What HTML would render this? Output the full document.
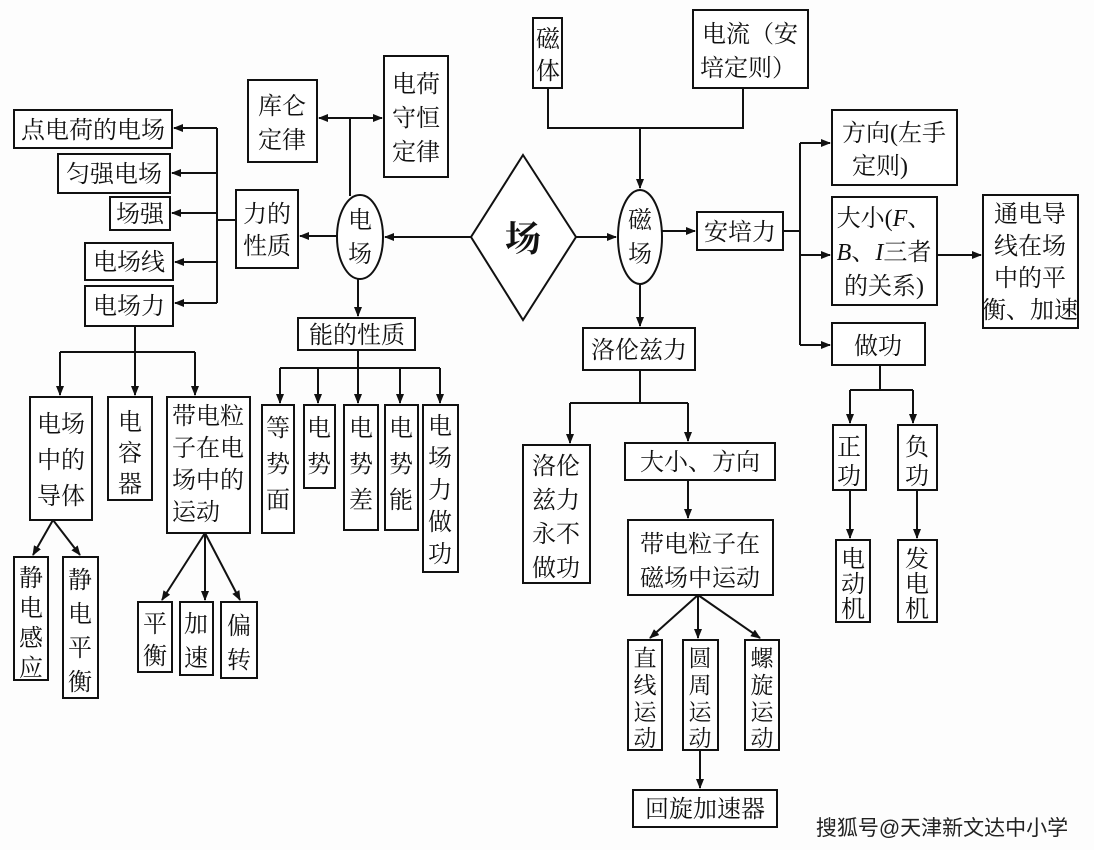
<!DOCTYPE html>
<html><head><meta charset="utf-8"><style>
html,body{margin:0;padding:0;background:#fdfdfd;}
svg{display:block}
text{font-family:"Liberation Serif","Noto Serif CJK SC",serif;font-size:24px;fill:#111;text-anchor:middle;}
.s{font-size:23px}
</style></head><body>
<svg width="1094" height="850" viewBox="0 0 1094 850" xmlns="http://www.w3.org/2000/svg">
<defs><marker id="a" markerWidth="10" markerHeight="8" refX="9" refY="4" orient="auto" markerUnits="userSpaceOnUse"><path d="M0,0 L10,4 L0,8 Z" fill="#111"/></marker></defs>
<rect width="1094" height="850" fill="#fdfdfd"/>
<g fill="#fff" stroke="#111" stroke-width="2">
<rect x="14" y="110" width="158" height="38"/>
<rect x="58" y="154" width="112" height="39"/>
<rect x="110" y="197" width="60" height="33"/>
<rect x="85" y="243" width="88" height="37"/>
<rect x="85" y="286" width="88" height="40"/>
<rect x="236" y="190" width="62" height="78"/>
<rect x="248" y="80" width="69" height="82"/>
<rect x="384" y="56" width="64" height="121"/>
<ellipse cx="360" cy="237" rx="23" ry="42"/>
<polygon points="523,155 576,237 523,320 471,237"/>
<rect x="298" y="318" width="117" height="32"/>
<rect x="262" y="405" width="32" height="128"/>
<rect x="304" y="405" width="31" height="83"/>
<rect x="344" y="405" width="34" height="125"/>
<rect x="385" y="405" width="33" height="125"/>
<rect x="423" y="405" width="35" height="167"/>
<rect x="30" y="397" width="62" height="123"/>
<rect x="108" y="397" width="44" height="103"/>
<rect x="167" y="397" width="83" height="136"/>
<rect x="14" y="557" width="34" height="123"/>
<rect x="63" y="557" width="35" height="141"/>
<rect x="138" y="602" width="34" height="70"/>
<rect x="180" y="602" width="33" height="73"/>
<rect x="221" y="602" width="36" height="76"/>
<rect x="533" y="18" width="29" height="70"/>
<rect x="693" y="10" width="115" height="78"/>
<ellipse cx="640" cy="237" rx="22" ry="47"/>
<rect x="697" y="212" width="86" height="38"/>
<rect x="832" y="110" width="125" height="75"/>
<rect x="832" y="197" width="105" height="108"/>
<rect x="832" y="323" width="93" height="42"/>
<rect x="983" y="195" width="95" height="133"/>
<rect x="583" y="328" width="112" height="42"/>
<rect x="523" y="445" width="67" height="138"/>
<rect x="625" y="443" width="150" height="37"/>
<rect x="628" y="520" width="145" height="75"/>
<rect x="628" y="640" width="34" height="110"/>
<rect x="683" y="640" width="35" height="110"/>
<rect x="745" y="640" width="34" height="110"/>
<rect x="633" y="790" width="144" height="37"/>
<rect x="833" y="425" width="33" height="65"/>
<rect x="898" y="425" width="39" height="65"/>
<rect x="836" y="540" width="34" height="82"/>
<rect x="898" y="540" width="39" height="82"/>
</g>
<g stroke="#111" stroke-width="2" fill="none">
<path d="M217,128 V303"/>
<path d="M217,128 H174" marker-end="url(#a)"/>
<path d="M217,173 H172" marker-end="url(#a)"/>
<path d="M217,213 H172" marker-end="url(#a)"/>
<path d="M217,262 H175" marker-end="url(#a)"/>
<path d="M217,303 H175" marker-end="url(#a)"/>
<path d="M236,220 H217"/>
<path d="M337,236 H300" marker-end="url(#a)"/>
<path d="M471,237 H385" marker-end="url(#a)"/>
<path d="M350,196 V118"/>
<path d="M350,118 H319" marker-end="url(#a)"/>
<path d="M350,118 H382" marker-end="url(#a)"/>
<path d="M358,279 V316" marker-end="url(#a)"/>
<path d="M358,350 V368 M280,368 H440"/>
<path d="M280,368 V403" marker-end="url(#a)"/>
<path d="M318,368 V403" marker-end="url(#a)"/>
<path d="M358,368 V403" marker-end="url(#a)"/>
<path d="M400,368 V403" marker-end="url(#a)"/>
<path d="M440,368 V403" marker-end="url(#a)"/>
<path d="M135,326 V352 M60,352 H195"/>
<path d="M60,352 V395" marker-end="url(#a)"/>
<path d="M135,352 V395" marker-end="url(#a)"/>
<path d="M195,352 V395" marker-end="url(#a)"/>
<path d="M53,520 L33,555" marker-end="url(#a)"/>
<path d="M53,520 L80,555" marker-end="url(#a)"/>
<path d="M205,533 L162,600" marker-end="url(#a)"/>
<path d="M205,533 V600" marker-end="url(#a)"/>
<path d="M205,533 L240,600" marker-end="url(#a)"/>
<path d="M548,88 V128 H743 V88 M640,128 V150"/>
<path d="M640,150 V188" marker-end="url(#a)"/>
<path d="M576,237 H616" marker-end="url(#a)"/>
<path d="M662,231 H695" marker-end="url(#a)"/>
<path d="M783,231 H800 M800,143 V345"/>
<path d="M800,143 H830" marker-end="url(#a)"/>
<path d="M800,255 H830" marker-end="url(#a)"/>
<path d="M800,345 H830" marker-end="url(#a)"/>
<path d="M937,255 H981" marker-end="url(#a)"/>
<path d="M640,284 V326" marker-end="url(#a)"/>
<path d="M640,370 V403 M570,403 H688"/>
<path d="M570,403 V443" marker-end="url(#a)"/>
<path d="M688,403 V441" marker-end="url(#a)"/>
<path d="M688,480 V518" marker-end="url(#a)"/>
<path d="M698,595 L650,638" marker-end="url(#a)"/>
<path d="M698,595 V638" marker-end="url(#a)"/>
<path d="M698,595 L760,638" marker-end="url(#a)"/>
<path d="M700,750 V788" marker-end="url(#a)"/>
<path d="M880,365 V390 M850,390 H913"/>
<path d="M850,390 V423" marker-end="url(#a)"/>
<path d="M913,390 V423" marker-end="url(#a)"/>
<path d="M850,490 V538" marker-end="url(#a)"/>
<path d="M917,490 V538" marker-end="url(#a)"/>
</g>
<g>
<text x="93" y="138">点电荷的电场</text>
<text x="114" y="182">匀强电场</text>
<text x="140" y="222">场强</text>
<text x="129" y="270">电场线</text>
<text x="129" y="314">电场力</text>
<text x="267" y="222">力的</text><text x="267" y="254">性质</text>
<text x="282" y="114">库仑</text><text x="282" y="148">定律</text>
<text x="416" y="92">电荷</text><text x="416" y="126">守恒</text><text x="416" y="160">定律</text>
<text x="360" y="228">电</text><text x="360" y="262">场</text>
<text x="523" y="251" style="font-size:36px;font-weight:bold">场</text>
<text x="357" y="343">能的性质</text>
<text x="278" y="436">等</text><text x="278" y="472">势</text><text x="278" y="508">面</text>
<text x="319" y="436">电</text><text x="319" y="472">势</text>
<text x="361" y="436">电</text><text x="361" y="472">势</text><text x="361" y="508">差</text>
<text x="401" y="436">电</text><text x="401" y="472">势</text><text x="401" y="508">能</text>
<text x="440" y="434">电</text><text x="440" y="466">场</text><text x="440" y="498">力</text><text x="440" y="530">做</text><text x="440" y="562">功</text>
<text x="61" y="432">电场</text><text x="61" y="468">中的</text><text x="61" y="504">导体</text>
<text x="130" y="430">电</text><text x="130" y="461">容</text><text x="130" y="492">器</text>
<text x="208" y="424">带电粒</text><text x="208" y="456">子在电</text><text x="208" y="488">场中的</text><text x="196" y="520">运动</text>
<text x="31" y="586">静</text><text x="31" y="616">电</text><text x="31" y="646">感</text><text x="31" y="676">应</text>
<text x="80" y="588">静</text><text x="80" y="622">电</text><text x="80" y="656">平</text><text x="80" y="690">衡</text>
<text x="155" y="632">平</text><text x="155" y="664">衡</text>
<text x="196" y="632">加</text><text x="196" y="666">速</text>
<text x="239" y="634">偏</text><text x="239" y="668">转</text>
<text x="548" y="47">磁</text><text x="548" y="79">体</text>
<text x="750" y="42">电流（安</text><text x="748" y="76">培定则）</text>
<text x="640" y="228">磁</text><text x="640" y="262">场</text>
<text x="740" y="240">安培力</text>
<text x="894" y="141">方向(左手</text><text x="880" y="174">定则)</text>
<text x="884" y="226">大小(<tspan font-style="italic">F</tspan>、</text>
<text x="884" y="260"><tspan font-style="italic">B</tspan>、<tspan font-style="italic">I</tspan>三者</text>
<text x="884" y="294">的关系)</text>
<text x="878" y="354">做功</text>
<text x="1030" y="222">通电导</text><text x="1030" y="254">线在场</text><text x="1030" y="286">中的平</text><text x="1030" y="318">衡、加速</text>
<text x="639" y="358">洛伦兹力</text>
<text x="556" y="474">洛伦</text><text x="556" y="508">兹力</text><text x="556" y="542">永不</text><text x="556" y="576">做功</text>
<text x="700" y="470">大小、方向</text>
<text x="700" y="552">带电粒子在</text><text x="700" y="586">磁场中运动</text>
<text class="s" x="645" y="666">直</text><text class="s" x="645" y="693">线</text><text class="s" x="645" y="720">运</text><text class="s" x="645" y="746">动</text>
<text class="s" x="700" y="666">圆</text><text class="s" x="700" y="693">周</text><text class="s" x="700" y="720">运</text><text class="s" x="700" y="746">动</text>
<text class="s" x="762" y="666">螺</text><text class="s" x="762" y="693">旋</text><text class="s" x="762" y="720">运</text><text class="s" x="762" y="746">动</text>
<text x="705" y="817">回旋加速器</text>
<text x="849" y="455">正</text><text x="849" y="484">功</text>
<text x="917" y="455">负</text><text x="917" y="484">功</text>
<text x="853" y="567">电</text><text x="853" y="592">动</text><text x="853" y="617">机</text>
<text x="917" y="567">发</text><text x="917" y="592">电</text><text x="917" y="617">机</text>
<text x="942" y="835" style="font-size:21px;font-family:'Liberation Sans','Noto Sans CJK SC',sans-serif;fill:#222">搜狐号@天津新文达中小学</text>
</g>
</svg>
</body></html>
